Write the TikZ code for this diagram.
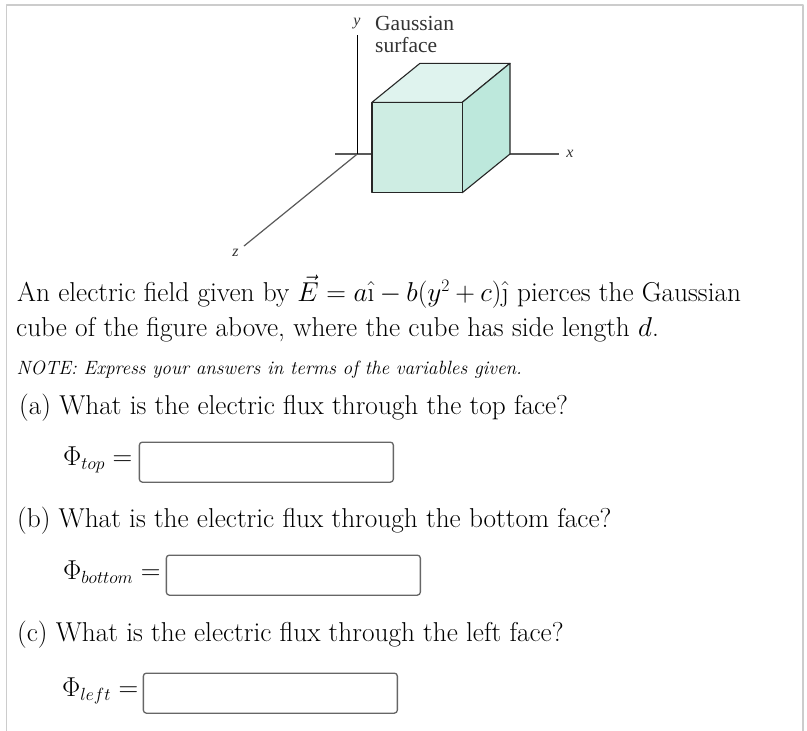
\RequirePackage{fix-cm}
\documentclass[tikz,border=0pt]{standalone}
\usepackage{fontspec}
\newfontfamily\figfont{Liberation Serif}
\DeclareMathSizes{27.3}{27.3}{17.6}{13}
\newcommand{\bodysize}{\fontsize{27.3}{32}\selectfont}
\newcommand{\notesize}{\fontsize{19.2}{23}\selectfont}
\begin{document}
\begin{tikzpicture}[x=1pt, y=-1pt, line join=round, line cap=butt,
	axisline/.style={draw=black!65, line width=1.2pt},
	faceline/.style={draw=black!85, line width=1.1pt},
	figlabel/.style={inner sep=0pt, font=\figfont\fontsize{16}{18}\selectfont\color{black!80}},
	figtext/.style={inner sep=0pt, anchor=base west, align=left, font=\figfont\fontsize{21.5}{22}\selectfont\color{black!80}},
	bodytext/.style={inner sep=0pt, anchor=base west, font=\bodysize},
	answerbox/.style={draw=black!60, line width=1.3pt, rounded corners=3pt, minimum width=254pt, minimum height=40pt, anchor=north west, inner sep=0pt}]
	\useasboundingbox (0,0) rectangle (807,731);
	\draw[black!20, line width=1.3pt] (6.5,731)--(6.5,5)--(803,5)--(803,731);
	\coordinate (origin) at (357.3,154);
	\coordinate (yend) at (357.3,35);
	\coordinate (xstart) at (335,154);
	\coordinate (xend) at (559,154);
	\coordinate (zend) at (244,246);
	\draw[axisline] (xstart)--(xend);
	\draw[axisline] (origin)--(zend);
	\draw[black, line width=1.1pt] (yend)--(origin);
	\coordinate (fa) at (372,102.3);
	\coordinate (fb) at (462.3,102.3);
	\coordinate (fc) at (462.3,192.7);
	\coordinate (fd) at (372,192.7);
	\coordinate (ba) at (420,63.3);
	\coordinate (bb) at (510,63.3);
	\coordinate (bc) at (510,154);
	\draw[faceline, fill={rgb,255:red,223;green,243;blue,238}] (fa)--(ba)--(bb)--(fb)--cycle;
	\draw[faceline, fill={rgb,255:red,189;green,232;blue,220}] (fb)--(bb)--(bc)--(fc)--cycle;
	\draw[faceline, fill={rgb,255:red,206;green,237;blue,227}] (fa)--(fb)--(fc)--(fd)--cycle;
	\node[figlabel] (ylabel) at (357,24) {\itshape y};
	\node[figlabel] (xlabel) at (570,154) {\itshape x};
	\node[figlabel] (zlabel) at (235.5,253) {\itshape z};
	\node[figtext] (gauss) at (375,52) {Gaussian\\surface};
	\node[bodytext] (lineone) at (17,301) {An electric field given by $\medmuskip=3.5mu\vec{E}=a\hat{\hbox{\i}}-b(y^2+c)\hat{\hbox{\j}}$ pierces the Gaussian};
	\node[bodytext] (linetwo) at (16,336) {cube of the figure above, where the cube has side length $d$.};
	\node[bodytext, font=\notesize\itshape] (note) at (16.5,374) {NOTE: Express your answers in terms of the variables given.};
	\node[bodytext] (parta) at (19,414) {(a) What is the electric flux through the top face?};
	\node[bodytext] (phitop) at (63,465) {$\Phi_{top}=$};
	\node[answerbox] (boxtop) at (138.7,441.5) {};
	\node[bodytext] (partb) at (17,527) {(b) What is the electric flux through the bottom face?};
	\node[bodytext] (phibottom) at (63,579) {$\Phi_{bottom}=$};
	\node[answerbox] (boxbottom) at (165.7,554.5) {};
	\node[bodytext] (partc) at (17,641) {(c) What is the electric flux through the left face?};
	\node[bodytext] (phileft) at (62,696) {$\Phi_{left}=$};
	\node[answerbox] (boxleft) at (142.7,672.5) {};
\end{tikzpicture}
\end{document}
